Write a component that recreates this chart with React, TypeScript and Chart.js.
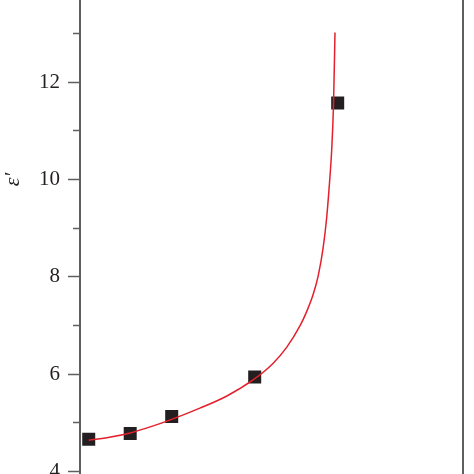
import { useEffect, useRef } from 'react';
import Chart from 'chart.js/auto';

// measured points (square markers)
const sampleX = [0, 0.1, 0.2, 0.4, 0.6];
const permittivity = [4.66, 4.78, 5.13, 5.94, 11.57];

// fitted curve
const fitX = [0, 0.05, 0.1, 0.15, 0.2, 0.268, 0.333, 0.396, 0.444, 0.477, 0.509, 0.525, 0.541, 0.553, 0.565, 0.5735, 0.58, 0.5855, 0.59, 0.5935];
const fitY = [4.64, 4.7, 4.79, 4.92, 5.07, 5.3, 5.55, 5.88, 6.22, 6.55, 6.99, 7.28, 7.64, 8.02, 8.6, 9.22, 9.9, 10.6, 11.55, 13.02];

// y ticks
const yTickValues = [4, 6, 8, 10, 12];
const yMinorValues = [5, 7, 9, 11, 13];

const AXIS = '#5f5f5f';
const INK = '#231f20';
const SERIF = '"Liberation Serif", "Times New Roman", serif';

const Y_MIN = 2.5;
const Y_MAX = 17.5;

const App = () => {
  const chartRef = useRef<HTMLCanvasElement>(null);

  useEffect(() => {
    const ctx = chartRef.current?.getContext('2d');
    if (!ctx) return;

    const chart = new Chart(ctx, {
      type: 'line',
      data: {
        datasets: [
          {
            label: 'fit',
            data: fitX.map((x, i) => ({ x, y: fitY[i] })),
            borderColor: '#e3202b',
            borderWidth: 1.5,
            pointRadius: 0,
            fill: false,
            cubicInterpolationMode: 'monotone',
            xAxisID: 'x',
            yAxisID: 'y',
          },
          {
            label: "ε'",
            data: sampleX.map((x, i) => ({ x, y: permittivity[i] })),
            showLine: false,
            pointStyle: 'rect',
            pointRadius: 9.2,
            pointBackgroundColor: INK,
            pointBorderColor: INK,
            pointBorderWidth: 0,
            xAxisID: 'x',
            yAxisID: 'y',
          },
        ],
      },
      options: {
        responsive: false,
        animation: false,
        layout: { padding: { top: 20, bottom: 20, left: 0, right: 0 } },
        plugins: { legend: { display: false }, tooltip: { enabled: false } },
        scales: {
          x: { type: 'linear', display: false, min: -0.021, max: 0.902 },
          y: {
            type: 'linear',
            position: 'left',
            weight: 1,
            min: Y_MIN,
            max: Y_MAX,
            afterBuildTicks: (s: any) => {
              s.ticks = yTickValues.map((v) => ({ value: v }));
            },
            afterFit: (s: any) => {
              s.width = 80;
            },
            grid: { drawOnChartArea: false, tickLength: 12, tickWidth: 1.5, tickColor: AXIS },
            border: { color: AXIS, width: 2 },
            ticks: { color: INK, padding: 8, font: { family: SERIF, size: 21 } },
            title: {
              display: true,
              text: 'ε′',
              color: INK,
              padding: { top: 0, bottom: 0 },
              font: { family: SERIF, size: 22, style: 'italic' },
            },
          },
          yMinor: {
            type: 'linear',
            position: 'left',
            weight: 0,
            min: Y_MIN,
            max: Y_MAX,
            afterBuildTicks: (s: any) => {
              s.ticks = yMinorValues.map((v) => ({ value: v }));
            },
            afterFit: (s: any) => {
              s.width = 0;
            },
            grid: { drawOnChartArea: false, tickLength: 7, tickWidth: 1.5, tickColor: AXIS },
            border: { display: false },
            ticks: { display: false },
          },
          yRight: {
            type: 'linear',
            position: 'right',
            min: Y_MIN,
            max: Y_MAX,
            afterFit: (s: any) => {
              s.width = 11;
            },
            grid: { display: false },
            border: { color: AXIS, width: 2 },
            ticks: { display: false },
          },
        },
      },
    });

    return () => chart.destroy();
  }, []);

  return (
    <div style={{ position: 'fixed', top: 0, left: 0, width: 474, height: 474, overflow: 'hidden', background: '#fff' }}>
      <canvas
        ref={chartRef}
        width={474}
        height={771}
        style={{ position: 'absolute', top: -206, left: 0, width: 474, height: 771 }}
      />
    </div>
  );
};

export default App;
